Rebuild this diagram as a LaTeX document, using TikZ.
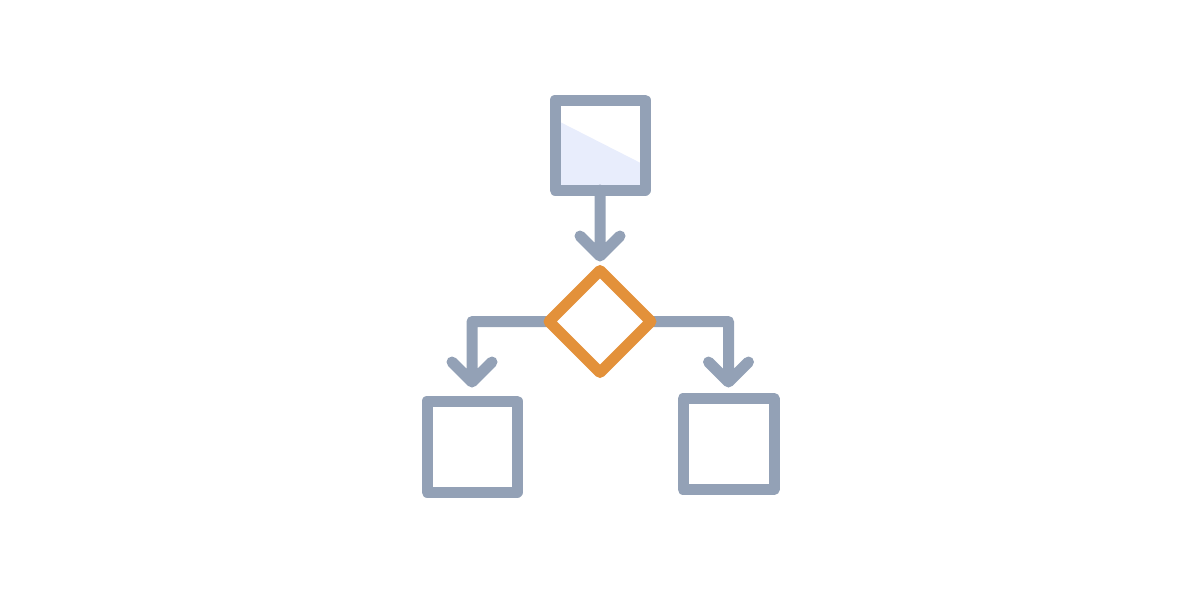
\documentclass[tikz,border=0pt]{standalone}
\usetikzlibrary{shapes.geometric,backgrounds,calc}
\definecolor{slate}{RGB}{147,161,182}
\definecolor{orng}{RGB}{227,145,58}
\definecolor{paleblue}{RGB}{232,237,252}
\begin{document}
\begin{tikzpicture}[x=0.75pt,y=-0.75pt,
  lw/.style={line width=8.25pt,line cap=round,line join=round},
  box/.style={lw,draw=slate,rectangle,inner sep=0pt,outer sep=0pt},
  decision/.style={lw,draw=orng,diamond,aspect=1,inner sep=0pt,outer sep=0pt,minimum width=76.5pt,minimum height=76.5pt},
  conn/.style={lw,draw=slate}]
\useasboundingbox (0,0) rectangle (1200,600);
\node[box,minimum width=67.5pt,minimum height=67.5pt] (top) at (600,145) {};
\node[decision] (dia) at (600,321.5) {};
\node[box,minimum width=67.5pt,minimum height=68.25pt] (left) at (472,446.5) {};
\node[box,minimum width=68.25pt,minimum height=68.25pt] (right) at (728.5,444) {};
\coordinate (t1) at (600,256);
\coordinate (t2) at (472,382);
\coordinate (t3) at (728.5,382);
\begin{scope}[on background layer]
  \fill[paleblue] (555,119.4) -- (645,165.2) -- (645,190) -- (555,190) -- cycle;
  \draw[conn] (top.south) -- (t1) ++(-20,-20) -- (t1) -- ++(20,-20);
  \draw[conn] (dia.west) -| (t2) ++(-20,-20) -- (t2) -- ++(20,-20);
  \draw[conn] (dia.east) -| (t3) ++(-20,-20) -- (t3) -- ++(20,-20);
\end{scope}
\end{tikzpicture}
\end{document}
